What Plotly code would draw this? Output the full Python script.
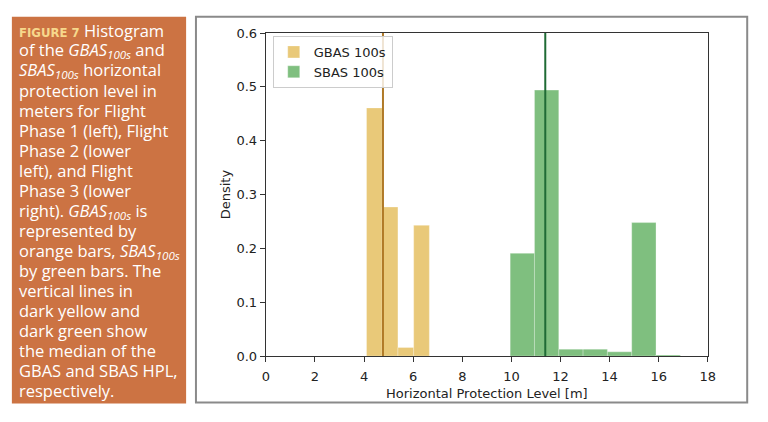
import plotly.graph_objects as go

# ---- data ----
gbas_edges = [4.10, 4.74, 5.38, 6.02, 6.66]
gbas_density = [0.461, 0.277, 0.016, 0.243]
sbas_edges = [9.95, 10.94, 11.93, 12.92, 13.91, 14.90, 15.89, 16.88]
sbas_density = [0.191, 0.494, 0.013, 0.013, 0.008, 0.248, 0.002]
gbas_median = 4.77
sbas_median = 11.38
x_ticks = [0, 2, 4, 6, 8, 10, 12, 14, 16, 18]
y_ticks = [0.0, 0.1, 0.2, 0.3, 0.4, 0.5, 0.6]
caption_lines = [
    "<b><span style='font-family:DejaVu Sans Condensed, sans-serif; font-size:13px; color:#F6D88C'>FIGURE 7</span></b> Histogram",
    "of the <i>GBAS<sub>100s</sub></i> and",
    "<i>SBAS<sub>100s</sub></i> horizontal",
    "protection level in",
    "meters for Flight",
    "Phase 1 (left), Flight",
    "Phase 2 (lower",
    "left), and Flight",
    "Phase 3 (lower",
    "right). <i>GBAS<sub>100s</sub></i> is",
    "represented by",
    "orange bars, <i>SBAS<sub>100s</sub></i>",
    "by green bars. The",
    "vertical lines in",
    "dark yellow and",
    "dark green show",
    "the median of the",
    "GBAS and SBAS HPL,",
    "respectively.",
]

W, H = 768, 422
def px(x): return x / W
def py(y): return (H - y) / H

def centers(edges):
    return [(a + b) / 2 for a, b in zip(edges[:-1], edges[1:])]
def widths(edges):
    return [b - a for a, b in zip(edges[:-1], edges[1:])]

fig = go.Figure()
fig.add_trace(go.Bar(x=centers(gbas_edges), y=gbas_density, width=widths(gbas_edges),
                     name="GBAS 100s", marker=dict(color="rgba(218,165,32,0.6)",
                     line=dict(color="rgba(255,255,255,0.5)", width=0.6))))
fig.add_trace(go.Bar(x=centers(sbas_edges), y=sbas_density, width=widths(sbas_edges),
                     name="SBAS 100s", marker=dict(color="rgba(0,128,0,0.5)",
                     line=dict(color="rgba(255,255,255,0.5)", width=0.6))))
fig.add_trace(go.Scatter(x=[gbas_median, gbas_median], y=[0, 0.6], mode="lines",
                         line=dict(color="#B07A28", width=2), showlegend=False))
fig.add_trace(go.Scatter(x=[sbas_median, sbas_median], y=[0, 0.6], mode="lines",
                         line=dict(color="#1F6B35", width=2), showlegend=False))

shapes = [
    dict(type="rect", xref="paper", yref="paper", x0=px(8), x1=px(185), y0=py(411), y1=py(10),
         fillcolor="#CC7343", line=dict(width=0), layer="below"),
    dict(type="rect", xref="paper", yref="paper", x0=px(195), x1=px(755), y0=py(410), y1=py(10),
         fillcolor="rgba(0,0,0,0)", line=dict(color="#8A8A8A", width=2), layer="below"),
]

annotations = []
line_gap = (398 - 24) / (len(caption_lines) - 1)
for i, t in enumerate(caption_lines):
    annotations.append(dict(xref="paper", yref="paper", x=px(14), y=py(24 + i * line_gap),
                            xanchor="left", yanchor="middle", align="left", showarrow=False,
                            text=t, borderpad=0,
                            font=dict(family="Open Sans", size=16.5, color="white")))

fig.update_layout(
    width=W, height=H, margin=dict(l=0, r=0, t=0, b=0),
    paper_bgcolor="white", plot_bgcolor="white",
    barmode="overlay", shapes=shapes, annotations=annotations,
    font=dict(family="DejaVu Sans", size=13, color="#222"),
    showlegend=True,
    legend=dict(x=px(273), y=py(30), xanchor="left", yanchor="top",
                bgcolor="rgba(255,255,255,0.8)", bordercolor="#CCCCCC", borderwidth=1,
                font=dict(size=13, color="#222"), itemwidth=30, tracegroupgap=0),
    xaxis=dict(domain=[px(266), px(715)], range=[0, 18], tickvals=x_ticks,
               ticks="outside", ticklen=5, tickcolor="#333", showline=True, linecolor="#333",
               linewidth=1.3, mirror=True, showgrid=False, zeroline=False,
               ticklabelstandoff=3,
               title=dict(text="Horizontal Protection Level [m]", font=dict(size=13), standoff=6)),
    yaxis=dict(domain=[py(362), py(27)], range=[0, 0.6], tickvals=y_ticks, tickformat=".1f",
               ticks="outside", ticklen=5, tickcolor="#333", showline=True, linecolor="#333",
               linewidth=1.3, mirror=True, showgrid=False, zeroline=False,
               title=dict(text="Density", font=dict(size=13), standoff=2)),
)

fig.write_html("out.html")
